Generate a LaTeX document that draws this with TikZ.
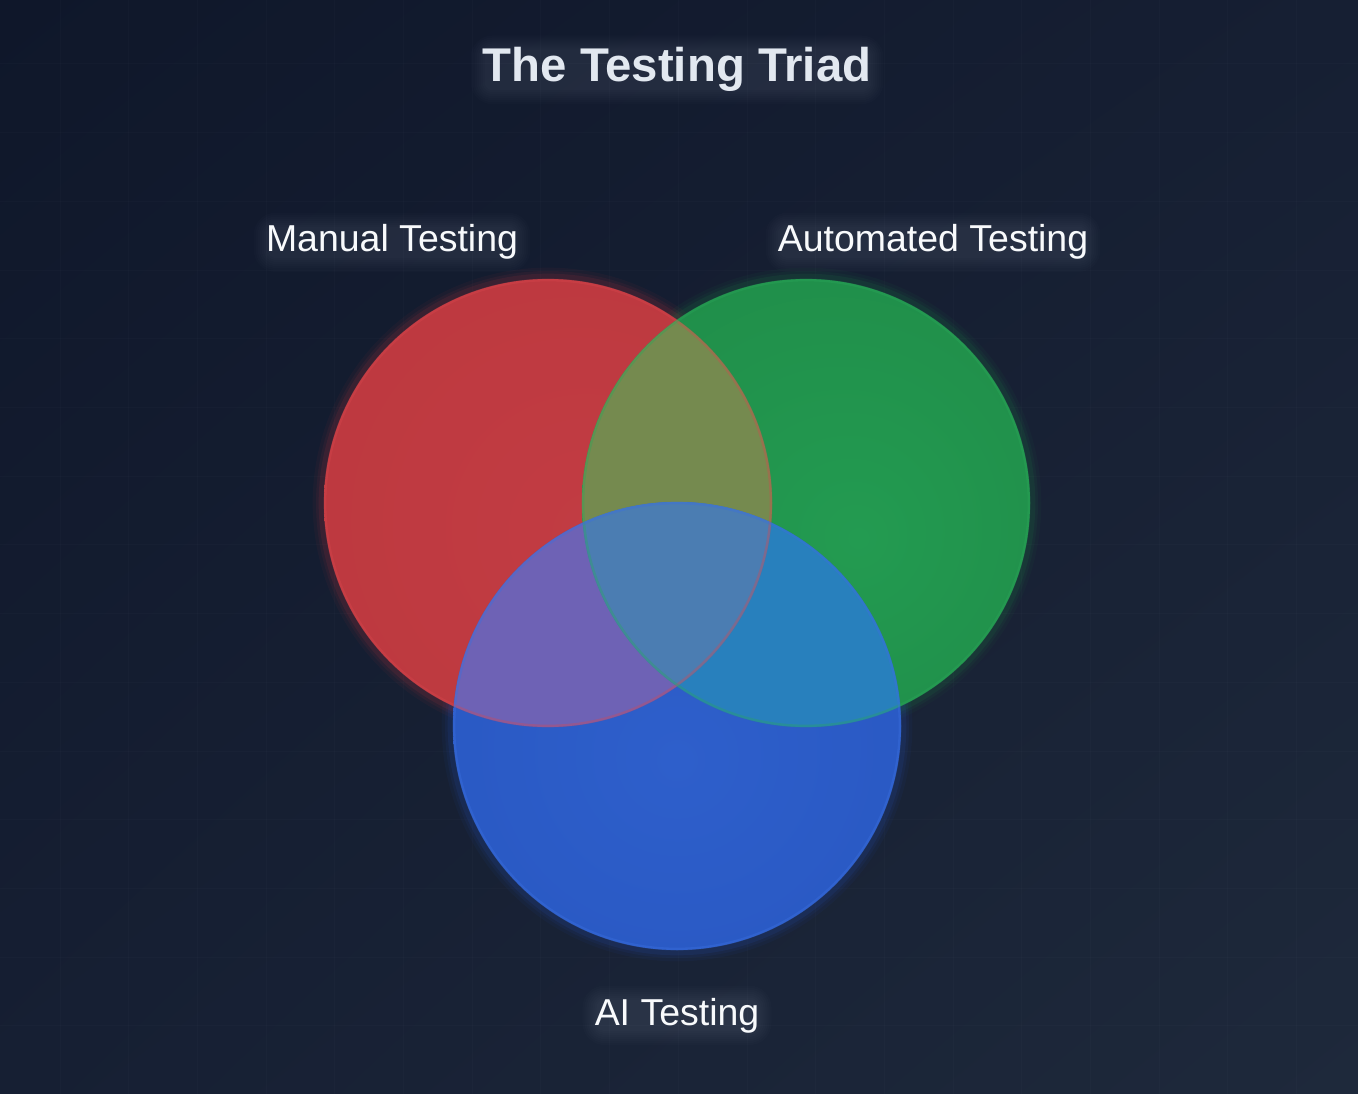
\documentclass[tikz,border=0pt]{standalone}
\usepackage{fontspec}
\setmainfont{Liberation Sans}
\usetikzlibrary{shadings}
\pgfdeclarelayer{backdrop}
\pgfdeclarelayer{haze}
\pgfsetlayers{backdrop,haze,main}
\definecolor{bgA}{HTML}{0F172A}
\definecolor{bgB}{HTML}{1E293B}
\definecolor{bgM}{HTML}{161F33}
\definecolor{redC}{HTML}{BA373D}
\definecolor{redL}{HTML}{C23C43}
\definecolor{redE}{HTML}{D9474E}
\definecolor{grnC}{HTML}{1E8645}
\definecolor{grnL}{HTML}{239B51}
\definecolor{grnE}{HTML}{2AA85A}
\definecolor{bluC}{HTML}{2654BE}
\definecolor{bluL}{HTML}{2E5FCB}
\definecolor{bluE}{HTML}{3A6FDF}
\definecolor{rgC}{HTML}{758A4F}
\definecolor{rbC}{HTML}{6E62B5}
\definecolor{gbC}{HTML}{2880BD}
\definecolor{rgbC}{HTML}{4B7DB2}
\definecolor{titleC}{HTML}{E2E8F0}
\definecolor{labelC}{HTML}{F8FAFC}
\pgfdeclareradialshading{redsh}{\pgfpoint{6bp}{-4bp}}{color(0bp)=(redL); color(50bp)=(redC)}
\pgfdeclareradialshading{grnsh}{\pgfpoint{6bp}{-4bp}}{color(0bp)=(grnL); color(50bp)=(grnC)}
\pgfdeclareradialshading{blush}{\pgfpoint{0bp}{-4bp}}{color(0bp)=(bluL); color(50bp)=(bluC)}
\tikzset{
  gridline/.style={draw=white, opacity=0.015, line width=0.75pt},
  titletext/.style={font=\bfseries\fontsize{35.5pt}{40pt}\selectfont, anchor=base, inner sep=0pt, text=titleC},
  labeltext/.style={font=\fontsize{28.1pt}{32pt}\selectfont, anchor=base, inner sep=0pt, text=labelC},
}
\newcommand\hazeof[1]{%
  \begin{pgfonlayer}{haze}
    \foreach \e in {-2,0,...,12}
      \fill[white, opacity=0.012, rounded corners={(\e+10)*0.75pt}]
        ([shift={(-\e,\e)}]#1.south west) rectangle ([shift={(\e,-\e)}]#1.north east);
  \end{pgfonlayer}}
\begin{document}
\begin{tikzpicture}[x=0.75pt,y=-0.75pt]
\useasboundingbox (0,0) rectangle (1358,1094);
\begin{pgfonlayer}{backdrop}
\shade[upper left=bgA, lower right=bgB, upper right=bgM, lower left=bgM] (0,0) rectangle (1358,1094);
\foreach \i in {0,...,19} \draw[gridline] ({60+68.7*\i},0) -- ({60+68.7*\i},1094);
\foreach \j in {0,...,15} \draw[gridline] (0,{64+68.7*\j}) -- (1358,{64+68.7*\j});
\end{pgfonlayer}
% centres
\coordinate (cM) at (548,503);
\coordinate (cA) at (806,503);
\coordinate (cI) at (677,726);
% glows
\foreach \w/\o in {14/0.06, 9/0.08, 5/0.12} {
  \draw[redC, line width=\w pt, opacity=\o] (cM) circle[radius=226];
  \draw[grnC, line width=\w pt, opacity=\o] (cA) circle[radius=226];
  \draw[bluC, line width=\w pt, opacity=\o] (cI) circle[radius=226];
}
% fills
\shade[shading=redsh] (cM) circle[radius=224];
\shade[shading=grnsh] (cA) circle[radius=224];
\shade[shading=blush] (cI) circle[radius=224];
\begin{scope}
  \clip (cM) circle[radius=224];
  \fill[rgC] (cA) circle[radius=224];
\end{scope}
\begin{scope}
  \clip (cM) circle[radius=224];
  \fill[rbC] (cI) circle[radius=224];
\end{scope}
\begin{scope}
  \clip (cA) circle[radius=224];
  \fill[gbC] (cI) circle[radius=224];
\end{scope}
\begin{scope}
  \clip (cM) circle[radius=224];
  \clip (cA) circle[radius=224];
  \fill[rgbC] (cI) circle[radius=224];
\end{scope}
% edges
\draw[redE, line width=2pt, opacity=0.35] (cM) circle[radius=223];
\draw[grnE, line width=2pt, opacity=0.35] (cA) circle[radius=223];
\draw[bluE, line width=2pt, opacity=0.4] (cI) circle[radius=223];
% texts
\node[titletext] (title) at (677,82) {The Testing Triad};
\node[labeltext] (manual) at (392,252) {Manual Testing};
\node[labeltext] (automated) at (933,252) {Automated Testing};
\node[labeltext] (ai) at (677,1025) {AI Testing};
\hazeof{title}
\hazeof{manual}
\hazeof{automated}
\hazeof{ai}
\end{tikzpicture}
\end{document}
